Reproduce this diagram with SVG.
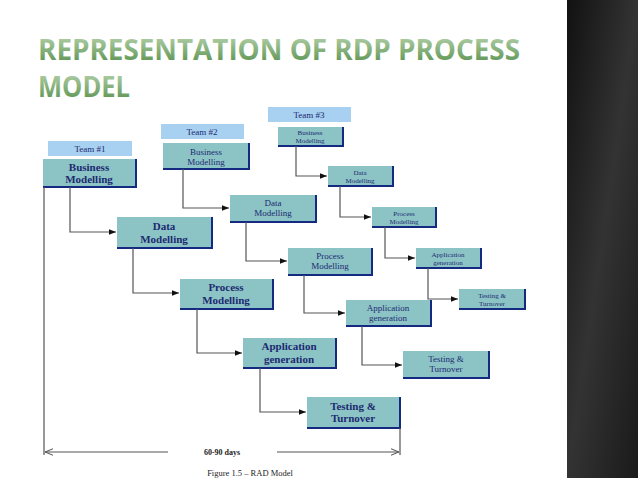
<svg xmlns="http://www.w3.org/2000/svg" width="638" height="478" viewBox="0 0 638 478">
<defs>
<linearGradient id="tg" x1="0" y1="0" x2="0" y2="1"><stop offset="0" stop-color="#c3dcb8"/><stop offset="1" stop-color="#4f8a45"/></linearGradient>
<linearGradient id="side" x1="0" y1="0" x2="1" y2="1"><stop offset="0" stop-color="#111"/><stop offset="0.5" stop-color="#333"/><stop offset="1" stop-color="#1a1a1a"/></linearGradient>
<marker id="ah" viewBox="0 0 10 10" refX="10" refY="5" markerWidth="6" markerHeight="6" orient="auto"><path d="M0,1 L10,5 L0,9 z" fill="#111"/></marker>
<marker id="oh" viewBox="0 0 10 10" refX="10" refY="5" markerWidth="7" markerHeight="7" orient="auto-start-reverse"><path d="M0,1 L10,5 L0,9" fill="none" stroke="#555" stroke-width="1.2"/></marker>
<style>
.b{fill:#8cc4c6;stroke:#142a80;stroke-width:0}
.sh{fill:none;stroke:#142a80;stroke-width:2}
.tm{fill:#a8d0f0}
.t{font-family:"Liberation Serif",serif;fill:#1c2a70;text-anchor:middle}
.bt{font-weight:bold;font-size:11px}
.st{font-size:9px}
.xs{font-size:7px}
.c{fill:none;stroke:#555;stroke-width:1.2}
.ti{font-family:"Open Sans","DejaVu Sans",sans-serif;font-weight:bold;font-size:28px;fill:url(#tg)}
</style>
</defs>
<rect width="638" height="478" fill="#fff"/>
<rect x="567" y="0" width="71" height="478" fill="url(#side)"/>
<text class="ti" x="38" y="60" textLength="482" lengthAdjust="spacingAndGlyphs">REPRESENTATION OF RDP PROCESS</text>
<text class="ti" x="38" y="97" textLength="92" lengthAdjust="spacingAndGlyphs">MODEL</text>

<g id="team1"><rect class="tm" x="48" y="141" width="84" height="15"/><text class="t st" x="90" y="152">Team #1</text></g>
<g id="team2"><rect class="tm" x="161" y="124" width="83" height="15"/><text class="t st" x="202" y="135">Team #2</text></g>
<g id="team3"><rect class="tm" x="268" y="107" width="83" height="15"/><text class="t st" x="309" y="118">Team #3</text></g>

<g id="bm1"><rect class="b" x="43" y="159" width="93" height="28"/><path class="sh" d="M136,159V187H43"/><text class="t bt" x="89" y="171">Business</text><text class="t bt" x="89" y="183">Modelling</text></g>
<g id="dm1"><rect class="b" x="117" y="217" width="95" height="31"/><path class="sh" d="M212,217V248H117"/><text class="t bt" x="164" y="230">Data</text><text class="t bt" x="164" y="243">Modelling</text></g>
<g id="pm1"><rect class="b" x="180" y="279" width="93" height="30"/><path class="sh" d="M273,279V309H180"/><text class="t bt" x="226" y="291">Process</text><text class="t bt" x="226" y="304">Modelling</text></g>
<g id="ag1"><rect class="b" x="243" y="338" width="93" height="30"/><path class="sh" d="M336,338V368H243"/><text class="t bt" x="289" y="350">Application</text><text class="t bt" x="289" y="363">generation</text></g>
<g id="tt1"><rect class="b" x="307" y="397" width="93" height="31"/><path class="sh" d="M400,397V428H307"/><text class="t bt" x="353" y="410">Testing &amp;</text><text class="t bt" x="353" y="422">Turnover</text></g>

<g id="bm2"><rect class="b" x="163" y="143" width="86" height="26"/><path class="sh" d="M249,143V169H163"/><text class="t st" x="206" y="155">Business</text><text class="t st" x="206" y="165">Modelling</text></g>
<g id="dm2"><rect class="b" x="230" y="195" width="86" height="27"/><path class="sh" d="M316,195V222H230"/><text class="t st" x="273" y="206">Data</text><text class="t st" x="273" y="216">Modelling</text></g>
<g id="pm2"><rect class="b" x="288" y="248" width="84" height="27"/><path class="sh" d="M372,248V275H288"/><text class="t st" x="330" y="259">Process</text><text class="t st" x="330" y="269">Modelling</text></g>
<g id="ag2"><rect class="b" x="346" y="300" width="85" height="26"/><path class="sh" d="M431,300V326H346"/><text class="t st" x="388" y="311">Application</text><text class="t st" x="388" y="321">generation</text></g>
<g id="tt2"><rect class="b" x="403" y="351" width="86" height="27"/><path class="sh" d="M489,351V378H403"/><text class="t st" x="446" y="362">Testing &amp;</text><text class="t st" x="446" y="372">Turnover</text></g>

<g id="bm3"><rect class="b" x="278" y="127" width="65" height="19"/><path class="sh" d="M343,127V146H278"/><text class="t xs" x="310" y="135">Business</text><text class="t xs" x="310" y="143">Modelling</text></g>
<g id="dm3"><rect class="b" x="328" y="166" width="65" height="20"/><path class="sh" d="M393,166V186H328"/><text class="t xs" x="360" y="175">Data</text><text class="t xs" x="360" y="183">Modelling</text></g>
<g id="pm3"><rect class="b" x="372" y="207" width="64" height="20"/><path class="sh" d="M436,207V227H372"/><text class="t xs" x="404" y="216">Process</text><text class="t xs" x="404" y="224">Modelling</text></g>
<g id="ag3"><rect class="b" x="416" y="248" width="65" height="20"/><path class="sh" d="M481,248V268H416"/><text class="t xs" x="448" y="257">Application</text><text class="t xs" x="448" y="265">generation</text></g>
<g id="tt3"><rect class="b" x="459" y="289" width="66" height="20"/><path class="sh" d="M525,289V309H459"/><text class="t xs" x="492" y="298">Testing &amp;</text><text class="t xs" x="492" y="306">Turnover</text></g>

<g id="connectors">
<path class="c" marker-end="url(#ah)" d="M70,187V232H116"/>
<path class="c" marker-end="url(#ah)" d="M133,248V293H179"/>
<path class="c" marker-end="url(#ah)" d="M197,309V353H242"/>
<path class="c" marker-end="url(#ah)" d="M260,368V412H306"/>
<path class="c" marker-end="url(#ah)" d="M183,169V208H229"/>
<path class="c" marker-end="url(#ah)" d="M246,222V261H287"/>
<path class="c" marker-end="url(#ah)" d="M304,275V313H345"/>
<path class="c" marker-end="url(#ah)" d="M362,326V365H402"/>
<path class="c" marker-end="url(#ah)" d="M296,146V176H327"/>
<path class="c" marker-end="url(#ah)" d="M340,186V217H371"/>
<path class="c" marker-end="url(#ah)" d="M385,227V258H415"/>
<path class="c" marker-end="url(#ah)" d="M428,268V299H458"/>
<path class="c" d="M44,187V455M400,428V455"/>
<path class="c" marker-start="url(#oh)" d="M45,452H168"/>
<path class="c" marker-end="url(#oh)" d="M277,452H399"/>
</g>
<text x="222" y="455" font-family="'Liberation Serif',serif" font-weight="bold" font-size="8" text-anchor="middle" fill="#222">60-90 days</text>
<text x="250" y="476" font-family="'Liberation Serif',serif" font-size="8.5" text-anchor="middle" fill="#222">Figure 1.5 – RAD Model</text>
</svg>
